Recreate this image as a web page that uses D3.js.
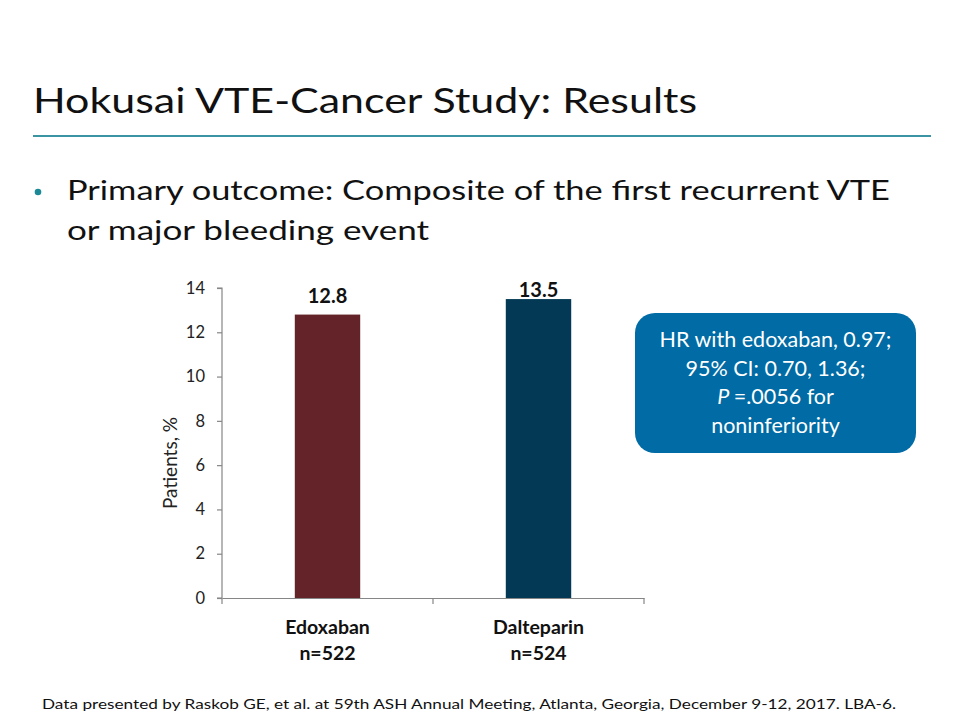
<!DOCTYPE html>
<html>
<head>
<meta charset="utf-8">
<script src="https://cdn.jsdelivr.net/npm/d3@7"></script>
<style>
    body { margin: 0; background: #fff; }
    svg { display: block; font-family: Lato, "Open Sans", sans-serif; }
</style>
</head>
<body>
<div id="slide"></div>
<script>
// chart data
const categories = ['Edoxaban', 'Dalteparin'];
const sampleSizes = ['n=522', 'n=524'];
const values = [12.8, 13.5];
const yTicks = [0, 2, 4, 6, 8, 10, 12, 14];
const barColors = ['#642328', '#033954'];
const hrLines = ['HR with edoxaban, 0.97;', '95% CI: 0.70, 1.36;', '=.0056 for', 'noninferiority'];

const width = 960;
const height = 720;

const svg = d3.select('#slide')
    .append('svg')
    .attr('width', width)
    .attr('height', height);

// slide header
svg.append('text')
    .attr('x', 33)
    .attr('y', 113)
    .attr('font-size', 35)
    .attr('fill', '#111')
    .attr('textLength', 664)
    .attr('lengthAdjust', 'spacingAndGlyphs')
    .text('Hokusai VTE-Cancer Study: Results');

svg.append('line')
    .attr('x1', 33).attr('x2', 931)
    .attr('y1', 136).attr('y2', 136)
    .attr('stroke', '#3A94A1')
    .attr('stroke-width', 2);

svg.append('circle')
    .attr('cx', 38).attr('cy', 192).attr('r', 3.3)
    .attr('fill', '#1C8A96');

const bullet = [
    {text: 'Primary outcome: Composite of the first recurrent VTE', y: 200, len: 823},
    {text: 'or major bleeding event', y: 240, len: 362}
];
svg.selectAll('text.bullet')
    .data(bullet)
    .join('text')
    .attr('class', 'bullet')
    .attr('x', 67)
    .attr('y', d => d.y)
    .attr('font-size', 26)
    .attr('fill', '#111')
    .attr('textLength', d => d.len)
    .attr('lengthAdjust', 'spacingAndGlyphs')
    .text(d => d.text);

// chart
const plot = {left: 222, right: 644, top: 288, bottom: 598};

const x = d3.scaleBand()
    .domain(categories)
    .range([plot.left, plot.right])
    .padding(0);

const y = d3.scaleLinear()
    .domain([0, 14])
    .range([plot.bottom, plot.top]);

const barWidth = x.bandwidth() * 0.31;

const yAxis = svg.append('g')
    .attr('transform', `translate(${plot.left},0)`)
    .call(d3.axisLeft(y).tickValues(yTicks).tickSize(5).tickPadding(12));

const xAxis = svg.append('g')
    .attr('transform', `translate(0,${plot.bottom})`)
    .call(d3.axisBottom(x).tickSize(0).tickFormat(''));

// category boundary ticks, like the office chart
xAxis.selectAll('line.edge')
    .data([plot.left, x(categories[1]), plot.right])
    .join('line')
    .attr('class', 'edge')
    .attr('x1', d => d).attr('x2', d => d)
    .attr('y1', 0).attr('y2', 6);

[yAxis, xAxis].forEach(function (g) {
    g.select('.domain').attr('stroke', '#868686').attr('stroke-width', 1.2);
    g.selectAll('line').attr('stroke', '#868686').attr('stroke-width', 1.2);
    g.selectAll('text')
        .attr('font-size', 16.5)
        .attr('font-family', 'Lato, sans-serif')
        .attr('fill', '#222');
});
yAxis.select('.domain').attr('d', `M-5,${plot.top}H0V${plot.bottom}H-5`);

svg.append('text')
    .attr('transform', `translate(177,${(plot.top + plot.bottom) / 2 + 20}) rotate(-90)`)
    .attr('text-anchor', 'middle')
    .attr('font-size', 19)
    .attr('fill', '#222')
    .text('Patients, %');

svg.selectAll('rect.bar')
    .data(values)
    .join('rect')
    .attr('class', 'bar')
    .attr('x', (d, i) => x(categories[i]) + x.bandwidth() / 2 - barWidth / 2)
    .attr('y', d => y(d))
    .attr('width', barWidth)
    .attr('height', d => plot.bottom - y(d))
    .attr('fill', (d, i) => barColors[i]);

svg.selectAll('text.value')
    .data(values)
    .join('text')
    .attr('class', 'value')
    .attr('x', (d, i) => x(categories[i]) + x.bandwidth() / 2)
    .attr('y', d => Math.max(y(d) - 12, plot.top + 9))
    .attr('text-anchor', 'middle')
    .attr('font-size', 20)
    .attr('font-weight', 'bold')
    .attr('fill', '#111')
    .text(d => d.toFixed(1));

const catLabels = svg.selectAll('text.cat')
    .data(categories)
    .join('text')
    .attr('class', 'cat')
    .attr('text-anchor', 'middle')
    .attr('font-size', 19.5)
    .attr('font-weight', 'bold')
    .attr('fill', '#111');
catLabels.append('tspan')
    .attr('x', d => x(d) + x.bandwidth() / 2)
    .attr('y', 634)
    .text(d => d);
catLabels.append('tspan')
    .attr('x', d => x(d) + x.bandwidth() / 2)
    .attr('y', 660)
    .text((d, i) => sampleSizes[i]);

// hazard ratio call-out
const box = {x: 635, y: 313, w: 281, h: 140};
svg.append('rect')
    .attr('x', box.x).attr('y', box.y)
    .attr('width', box.w).attr('height', box.h)
    .attr('rx', 20).attr('ry', 20)
    .attr('fill', '#006BA4');

const hr = svg.append('text')
    .attr('text-anchor', 'middle')
    .attr('font-size', 21.5)
    .attr('fill', '#fff');
hrLines.forEach(function (line, i) {
    const t = hr.append('tspan')
        .attr('x', box.x + box.w / 2)
        .attr('y', 347 + i * 28.7);
    if (i === 2) {
        t.append('tspan').attr('font-style', 'italic').text('P ');
    }
    t.append('tspan').text(line);
});

svg.append('text')
    .attr('x', 42)
    .attr('y', 709)
    .attr('font-size', 14)
    .attr('fill', '#111')
    .attr('textLength', 854)
    .attr('lengthAdjust', 'spacingAndGlyphs')
    .text('Data presented by Raskob GE, et al. at 59th ASH Annual Meeting, Atlanta, Georgia, December 9-12, 2017. LBA-6.');
</script>
</body>
</html>
